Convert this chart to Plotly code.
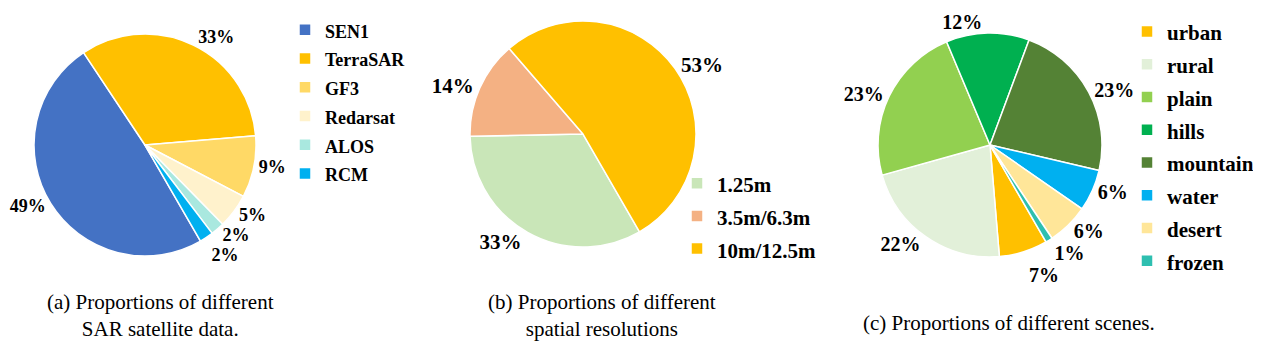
import plotly.graph_objects as go

# (a) SAR satellite data
sat_labels = ["SEN1", "TerraSAR", "GF3", "Redarsat", "ALOS", "RCM"]
sat_values = [49, 33, 9, 5, 2, 2]
sat_colors = ["#4472C4", "#FFC000", "#FFD966", "#FFF2CC", "#A9E8DF", "#00B0F0"]

# (b) spatial resolutions
res_labels = ["1.25m", "3.5m/6.3m", "10m/12.5m"]
res_values = [33, 14, 53]
res_colors = ["#C9E6B8", "#F4B183", "#FFC000"]

# (c) scenes
scene_labels = ["urban", "rural", "plain", "hills", "mountain", "water", "desert", "frozen"]
scene_values = [7, 22, 23, 12, 23, 6, 6, 1]
scene_colors = ["#FFC000", "#E2F0D9", "#92D050", "#00B050", "#548235", "#00B0F0", "#FFE699", "#2EBFB0"]

captions = [
    "(a) Proportions of different<br>SAR satellite data.",
    "(b) Proportions of different<br>spatial resolutions",
    "(c) Proportions of different scenes.",
]

W, H = 1261, 356
FONT = "Liberation Serif"


def span(lbls, size):
    # trailing spaces give the legend room for the bold glyphs
    return [f'<span style="font-size:{size}px"><b>{l}</b>&nbsp;&nbsp;</span>' for l in lbls]


def dom(cx, cy, r):
    return dict(x=[(cx - r) / W, (cx + r) / W], y=[(H - cy - r) / H, (H - cy + r) / H])


def pie(labels, values, colors, size, tsize, domain, legend):
    return go.Pie(
        labels=span(labels, size), values=values, sort=False, direction="clockwise",
        rotation=150, marker=dict(colors=colors, line=dict(color="white", width=1.5)),
        texttemplate='<span style="fill:black;fill-opacity:1"><b>%{percent:.0%}</b></span>',
        textposition="outside",
        outsidetextfont=dict(family=FONT, size=tsize, color="rgba(0,0,0,0)"),
        domain=domain, legend=legend, hoverinfo="skip",
    )


fig = go.Figure()
fig.add_trace(pie(sat_labels, sat_values, sat_colors, 18, 18, dom(137, 137, 111), "legend"))
fig.add_trace(pie(res_labels, res_values, res_colors, 21, 21, dom(575, 126, 113), "legend2"))
fig.add_trace(pie(scene_labels, scene_values, scene_colors, 21, 20, dom(982, 137, 112), "legend3"))

legend_common = dict(yanchor="top", bgcolor="rgba(0,0,0,0)",
                     itemclick=False, itemdoubleclick=False)

fig.update_layout(
    width=W, height=H, margin=dict(l=0, r=0, t=0, b=0, autoexpand=False),
    paper_bgcolor="white", plot_bgcolor="white",
    legend=dict(x=277 / W, xanchor="left", y=1 - 2.5 / H,
                font=dict(family=FONT, size=19.8, color="black"), **legend_common),
    legend2=dict(x=669 / W, xanchor="left", y=1 - 154 / H,
                 font=dict(family=FONT, size=22.8, color="black"), **legend_common),
    legend3=dict(x=1.0, xanchor="right", y=1 - 2 / H,
                 font=dict(family=FONT, size=22.9, color="black"), **legend_common),
)

cap_pos = [(152, 307), (594, 307), (1001, 315)]
for text, (cx, cy) in zip(captions, cap_pos):
    fig.add_annotation(text=text, x=cx / W, y=1 - cy / H, xref="paper", yref="paper",
                       xanchor="center", yanchor="middle", showarrow=False,
                       font=dict(family=FONT, size=21, color="black"))

fig.write_html("out.html")
